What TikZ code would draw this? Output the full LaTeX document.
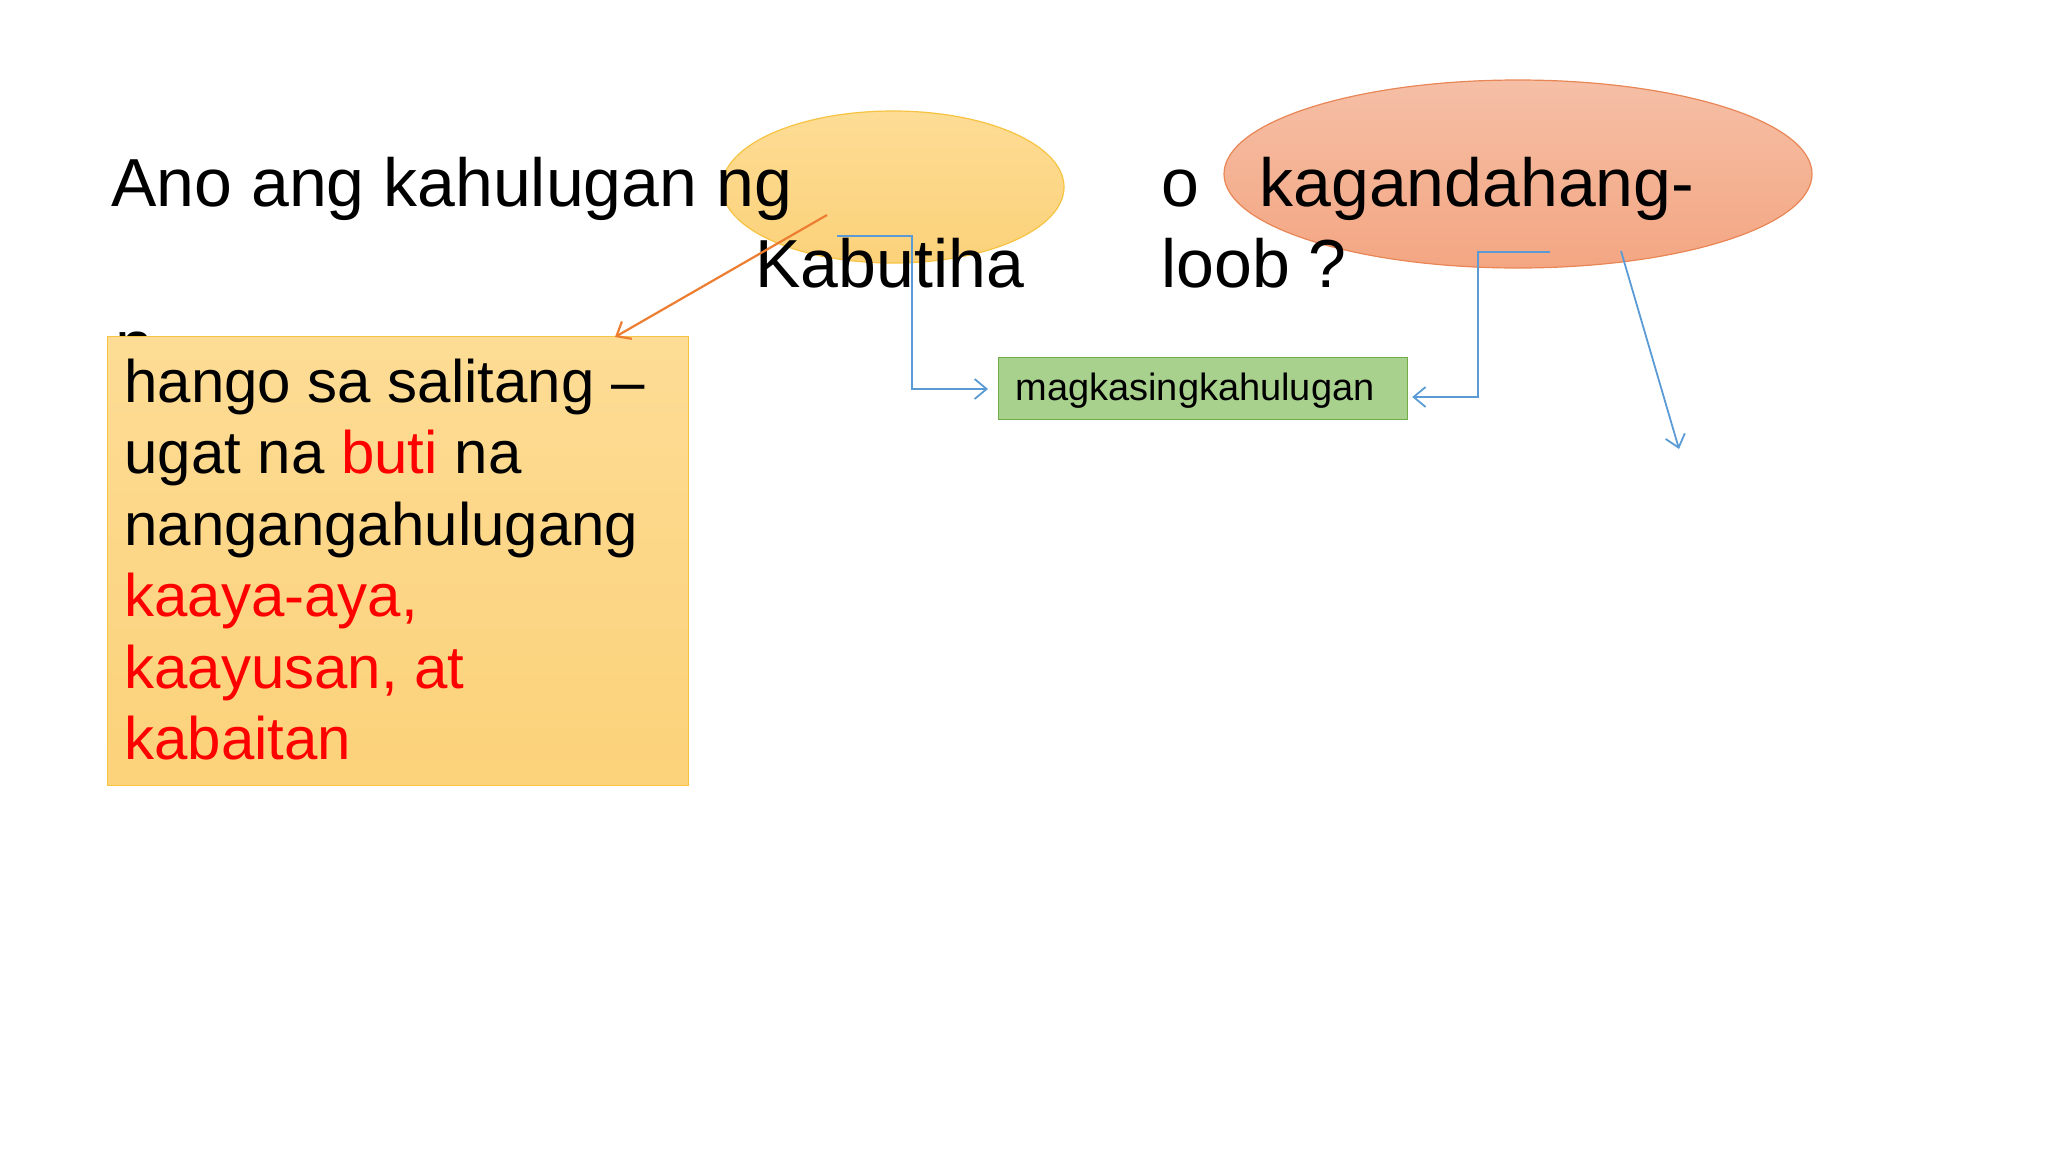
\documentclass[tikz,border=0pt]{standalone}
\usepackage{fontspec}
\setmainfont{Liberation Sans}
\usetikzlibrary{arrows.meta,shapes.geometric}
\definecolor{ylwA}{HTML}{FDDC95}
\definecolor{ylwB}{HTML}{FCD27A}
\definecolor{ylwLine}{HTML}{F6C342}
\definecolor{salA}{HTML}{F5BFA6}
\definecolor{salB}{HTML}{F4A682}
\definecolor{salLine}{HTML}{E98656}
\definecolor{grnFill}{HTML}{A9D18E}
\definecolor{grnLine}{HTML}{70AD47}
\definecolor{bluLine}{HTML}{5B9BD5}
\definecolor{orgLine}{HTML}{ED7D31}
\definecolor{redTxt}{HTML}{FF0000}
\tikzset{
  titletxt/.style={anchor=base west,inner sep=0pt,font=\fontsize{34}{40}\selectfont},
  boxtxt/.style={anchor=base west,inner sep=0pt,font=\fontsize{30}{36}\selectfont},
  bluarrow/.style={draw=bluLine,line width=0.9pt,-{Straight Barb[length=6pt,width=10pt]}},
  orgarrow/.style={draw=orgLine,line width=1.1pt,-{Straight Barb[length=6pt,width=10pt]}},
}
\begin{document}
\begin{tikzpicture}[x=0.5pt,y=-0.5pt]
\useasboundingbox (0,0) rectangle (2048,1152);
% ellipses (sizes in pt = pixels/2)
\node[ellipse,draw=ylwLine,line width=0.6pt,top color=ylwA,bottom color=ylwB,
      minimum width=171pt,minimum height=76pt,inner sep=0pt] (kab) at (893,187) {};
\node[ellipse,draw=salLine,line width=0.6pt,top color=salA,bottom color=salB,
      minimum width=294pt,minimum height=94pt,inner sep=0pt] (kag) at (1518,174) {};
% title texts
\node[titletxt] (t1) at (111,206) {Ano ang kahulugan ng};
\node[titletxt] (t2) at (755,287) {Kabutiha};
\node[titletxt] (t3) at (115,368) {n};
\node[titletxt] (t4) at (1161,206) {o};
\node[titletxt] (t5) at (1259,206) {kagandahang-};
\node[titletxt] (t6) at (1161,287) {loob ?};
% definition box
\node[draw=ylwLine,line width=0.6pt,top color=ylwA,bottom color=ylwB,
      anchor=north west,minimum width=290.5pt,minimum height=224.5pt,inner sep=0pt] (box) at (107,336) {};
\node[boxtxt] (b1) at (124,402) {hango sa salitang –};
\node[boxtxt] (b2) at (124,473) {ugat na \textcolor{redTxt}{buti} na};
\node[boxtxt] (b3) at (124,545) {nangangahulugang};
\node[boxtxt,text=redTxt] (b4) at (124,616) {kaaya-aya,};
\node[boxtxt,text=redTxt] (b5) at (124,688) {kaayusan, at};
\node[boxtxt,text=redTxt] (b6) at (124,759) {kabaitan};
% green box
\node[draw=grnLine,line width=0.6pt,fill=grnFill,anchor=north west,
      minimum width=204.5pt,minimum height=31pt,inner sep=0pt] (mag) at (998,357) {};
\node[anchor=base west,inner sep=0pt,font=\fontsize{19}{23}\selectfont] (magt) at (1015,400) {magkasingkahulugan};
% connectors
\coordinate (oa) at (827,215);
\coordinate (ob) at (615,337);
\draw[orgarrow] (oa) -- (ob);
\coordinate (ka) at (837,236);
\draw[bluarrow] (ka) -- (912,236) -- (912,389) -- ([xshift=-5]mag.west |- 0,389);
\coordinate (ga) at (1550,252);
\draw[bluarrow] (ga) -- (1478,252) -- (1478,397) -- ([xshift=2]mag.east |- 0,397);
\coordinate (ra) at (1621,251);
\coordinate (rb) at (1679,449);
\draw[bluarrow] (ra) -- (rb);
\end{tikzpicture}
\end{document}
